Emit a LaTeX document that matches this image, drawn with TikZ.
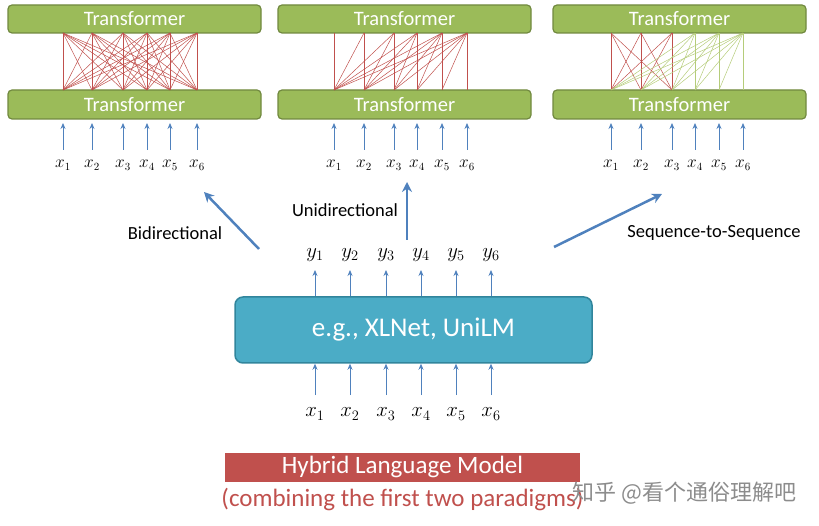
\documentclass[tikz,border=0pt]{standalone}
\usepackage{fontspec}
\setmainfont{Carlito}
\newfontfamily\cjk{Noto Sans CJK SC}
\usetikzlibrary{arrows.meta}
\definecolor{tgreen}{HTML}{9BBB59}
\definecolor{tgreenD}{HTML}{71893F}
\definecolor{lred}{HTML}{C0504D}
\definecolor{lgreen}{HTML}{B5CC7A}
\definecolor{ablue}{HTML}{4F81BD}
\definecolor{mblue}{HTML}{4BACC6}
\definecolor{mblueD}{HTML}{31859C}
\begin{document}
\begin{tikzpicture}[x=1pt,y=-1pt,
  tbox/.style={draw=tgreenD,line width=1.2pt,fill=tgreen,rounded corners=4pt,text=white,font=\fontsize{20.5}{20}\selectfont},
  sarr/.style={-{Stealth[length=6pt,width=5pt]},ablue,line width=0.8pt},
  barr/.style={-{Stealth[length=10pt,width=10pt]},ablue,line width=2.5pt},
  att/.style={lred,line width=0.5pt},
  attg/.style={lgreen,line width=0.5pt},
  lab/.style={font=\fontsize{18.5}{18}\selectfont}]
\useasboundingbox (0,0) rectangle (819,526);
\foreach \n/\l/\r in {A/8/261,B/278/531,C/553/806}{
  \node[tbox,minimum width=\r pt-\l pt,minimum height=28pt,inner sep=0pt] (\n top) at ({(\l+\r)/2},19) {Transformer};
  \node[tbox,minimum width=\r pt-\l pt,minimum height=29pt,inner sep=0pt] (\n bot) at ({(\l+\r)/2},104.5) {Transformer};
}
\foreach \n/\xs in {A/{63,92,123,147,170,197},B/{334,364,394,417,442,467},C/{611,641,672,695,719,743}}{
  \foreach \x [count=\i] in \xs {
    \coordinate (\n t\i) at (\x,33);
    \coordinate (\n b\i) at (\x,90);
    \node[font=\fontsize{16}{16}\selectfont,inner sep=1pt] (\n x\i) at (\x,165) {$x_{\i}$};
    \draw[sarr] (\x,150) -- (\x,123);
  }
}
\foreach \i in {1,...,6}{\foreach \j in {1,...,6}{\draw[att] (At\i) -- (Ab\j);}}
\foreach \j in {1,...,6}{\foreach \i in {1,...,\j}{\draw[att] (Bt\j) -- (Bb\i);}}
\foreach \i in {1,2,3}{\foreach \j in {1,2,3}{\draw[att] (Ct\i) -- (Cb\j);}}
\foreach \j in {4,5,6}{\foreach \i in {1,...,\j}{\draw[attg] (Ct\j) -- (Cb\i);}}
\node[draw=mblueD,line width=1.5pt,fill=mblue,rounded corners=8pt,minimum width=357pt,minimum height=66pt,text=white,font=\fontsize{27}{27}\selectfont] (M) at (413.5,330) {e.g., XLNet, UniLM};
\foreach \x [count=\i] in {315,350,386,421,456,491}{
  \node[font=\fontsize{20}{20}\selectfont,inner sep=1pt] (y\i) at (\x,255) {$y_{\i}$};
  \node[font=\fontsize{20}{20}\selectfont,inner sep=1pt] (x\i) at (\x,414) {$x_{\i}$};
  \draw[sarr] (M.north -| y\i) -- (\x,270);
  \draw[sarr] (\x,395) -- (M.south -| x\i);
}
\coordinate (b1s) at (259,249); \coordinate (b1e) at (204,192);
\coordinate (b2s) at (407,240); \coordinate (b2e) at (407,182);
\coordinate (b3s) at (554,247); \coordinate (b3e) at (662,194);
\draw[barr] (b1s) -- (b1e);
\draw[barr] (b2s) -- (b2e);
\draw[barr] (b3s) -- (b3e);
\node[lab] (l1) at (175,233) {Bidirectional};
\node[lab] (l2) at (345,210) {Unidirectional};
\node[lab] (l3) at (714,233) {Sequence-to-Sequence};
\node[fill=lred,minimum width=355pt,minimum height=29pt,text=white,inner sep=0pt,font=\fontsize{25}{25}\selectfont] (H) at (402.5,467) {Hybrid Language Model};
\node[text=lred,font=\fontsize{25}{25}\selectfont] (C) at (402.5,500) {(combining the first two paradigms)};
\node[text=black!45,font=\cjk\fontsize{22}{22}\selectfont,anchor=east] (W) at (800,493) {知乎 @看个通俗理解吧};
\end{tikzpicture}
\end{document}
